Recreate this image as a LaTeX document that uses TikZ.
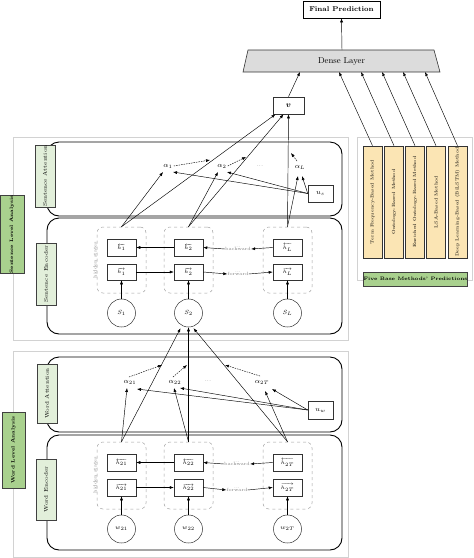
\documentclass[tikz,border=0pt]{standalone}
\usepackage{amsmath,amssymb}
\usetikzlibrary{arrows.meta,calc}
\definecolor{lgreen}{HTML}{E2EFDA}
\definecolor{dgreen}{HTML}{A9D18E}
\definecolor{lyellow}{HTML}{FBE5B4}
\definecolor{dgray}{HTML}{DCDCDC}
\begin{document}
\begin{tikzpicture}[x=1pt,y=-1pt,
  arr/.style={-{Latex[length=4pt,width=3pt]}, line width=0.45pt},
  darr/.style={arr, dash pattern=on 1.5pt off 1pt},
  outer/.style={draw=gray!35, line width=0.6pt, inner sep=0},
  rboxn/.style={draw=black, line width=0.9pt, rounded corners=12pt, inner sep=0},
  lab/.style={draw=gray!50!black, fill=lgreen, rotate=90, inner sep=0, line width=0.6pt, font=\fontsize{5.4}{6}\selectfont},
  biglab/.style={draw=gray!50!black, fill=dgreen, inner sep=0, line width=0.6pt, font=\bfseries\fontsize{4.9}{5.5}\selectfont},
  hid/.style={draw=gray!75, dashed, rounded corners=6pt, line width=0.5pt, inner sep=0, minimum width=49pt},
  hbox/.style={draw=gray!40!black, minimum width=29pt, inner sep=0, line width=0.5pt, font=\fontsize{5.5}{6}\selectfont},
  circ/.style={circle, draw=gray!40!black, minimum size=28pt, inner sep=0, line width=0.5pt, font=\fontsize{6.5}{7}\selectfont},
  meth/.style={draw=gray!40!black, fill=lyellow, rotate=90, minimum width=112pt, minimum height=19pt, inner sep=0, line width=0.6pt, font=\fontsize{4.5}{5}\selectfont},
  alp/.style={inner sep=1pt, font=\fontsize{7.5}{8}\selectfont},
  tiny/.style={text=gray, inner sep=0, font=\fontsize{4.6}{4.8}\selectfont, align=center},
  ubox/.style={draw=gray!40!black, minimum width=25pt, inner sep=0, line width=0.5pt, font=\fontsize{7}{8}\selectfont}
]
\useasboundingbox (0,0) rectangle (474,558);

% ---------- top part ----------
\node[draw=black, line width=0.6pt, minimum width=77pt, minimum height=17pt, inner sep=0,
      font=\bfseries\fontsize{7}{8}\selectfont] (final) at (341.5,9.5) {Final Prediction};
\draw[fill=dgray, draw=gray!40!black, line width=0.6pt] (248,50) -- (434,50) -- (440,72) -- (243,72) -- cycle;
\node[inner sep=0, font=\fontsize{8.5}{9}\selectfont] (dense) at (341.5,61) {Dense Layer};
\coordinate (dtop) at (342,50);
\coordinate (d0) at (300,72);
\coordinate (d1) at (339,72);
\coordinate (d2) at (361,72);
\coordinate (d3) at (382,72);
\coordinate (d4) at (403,72);
\coordinate (d5) at (425,72);
\draw[arr] (dtop) -- (final.south);

\node[draw=gray!40!black, line width=0.6pt, minimum width=31pt, minimum height=17pt, inner sep=0,
      font=\fontsize{8}{9}\selectfont] (v) at (288.5,105.5) {$\boldsymbol{v}$};
\draw[arr] (v.north) -- (d0);

% ---------- base methods ----------
\node[outer, minimum width=115pt, minimum height=143pt] (baseout) at (414.5,208.5) {};
\node[meth] (m1) at (372.5,202) {Term Frequency-Based Method};
\node[meth] (m2) at (394,202) {Ontology-Based Method};
\node[meth] (m3) at (415,202) {Enriched Ontology-Based Method};
\node[meth] (m4) at (436,202) {LSA-Based Method};
\node[meth] (m5) at (457.5,202) {Deep Learning-Based (BiLSTM) Method};
\node[biglab, minimum width=101pt, minimum height=14pt] (five) at (415.5,279) {Five Base Methods' Predictions};
\draw[arr] (m1.east) -- (d1);
\draw[arr] (m2.east) -- (d2);
\draw[arr] (m3.east) -- (d3);
\draw[arr] (m4.east) -- (d4);
\draw[arr] (m5.east) -- (d5);

% ---------- sentence level ----------
\node[outer, minimum width=335pt, minimum height=203pt] (slout) at (180.5,238.5) {};
\node[rboxn, minimum width=295pt, minimum height=74pt] (satt) at (194.5,179) {};
\node[rboxn, minimum width=295pt, minimum height=116pt] (senc) at (194.5,276) {};
\node[biglab, rotate=90, minimum width=77pt, minimum height=24pt] (slab) at (12,234.5) {Sentence Level Analysis};
\node[lab, minimum width=62pt, minimum height=20pt] (sattlab) at (45,176) {Sentence Attention};
\node[lab, minimum width=62pt, minimum height=20pt] (senclab) at (46,274) {Sentence Encoder};

\foreach \i/\x/\s in {1/121.5/1, 2/188.5/2, 3/287.5/L}{
  \node[hid, minimum height=66pt] (sh\i) at (\x,260) {};
  \node[hbox, minimum height=17pt] (sb\i) at (\x,247.5) {$\overleftarrow{h_{\s}}$};
  \node[hbox, minimum height=16pt] (sf\i) at (\x,272) {$\overrightarrow{h_{\s}}$};
  \node[circ] (sc\i) at (\x,313) {$S_{\s}$};
  \draw[arr] (sc\i.north) -- (sf\i.south);
}
\node[tiny, rotate=90] (shs) at (95,260) {hidden states};
\node[tiny] (sbk) at (238,249) {...\\[-1.5pt]backward};
\node[tiny] (sfw) at (238,274) {...\\[-1.5pt]forward};
\draw[arr] (sb3.west) -- (sbk.east);
\draw[arr] (sbk.west) -- (sb2.east);
\draw[arr] (sb2.west) -- (sb1.east);
\draw[arr] (sf1.east) -- (sf2.west);
\draw[arr] (sf2.east) -- (sfw.west);
\draw[arr] (sfw.east) -- (sf3.west);

\node[alp] (a1) at (168,166) {$\alpha_1$};
\node[alp] (a2) at (222,166) {$\alpha_2$};
\node[tiny, font=\fontsize{6}{6}\selectfont] (adots) at (260,166) {...};
\node[alp] (aL) at (300,167) {$\alpha_L$};
\node[ubox, minimum height=17pt] (us) at (320.5,193.5) {$u_s$};
\coordinate (da1) at (210,160);
\coordinate (da2) at (246,157);
\coordinate (daL) at (291,153);
\draw[darr] (a1.east) -- (da1);
\draw[darr] (a2.east) -- (da2);
\draw[darr] ($(aL)+(-3,-6)$) -- (daL);

\draw[arr] (sh1.north) -- ($(a1)+(-5,6)$);
\draw[arr] (sh2.north) -- ($(a2)+(-4,6)$);
\draw[arr] (sh3.north) -- ($(aL)+(-2,9)$);
\draw[arr] (us.west) -- ($(a1)+(5,6)$);
\draw[arr] (us.west) -- ($(a2)+(5,6)$);
\draw[arr] (us.west) -- ($(aL)+(2,9)$);
\draw[arr] (sh1.north) -- ($(v.south)+(-13,0)$);
\draw[arr] (sh2.north) -- ($(v.south)+(-5,0)$);
\draw[arr] (sh3.north) -- (v.south);

% ---------- word level ----------
\node[outer, minimum width=335pt, minimum height=206pt] (wlout) at (180.5,454) {};
\node[rboxn, minimum width=295pt, minimum height=75pt] (watt) at (194.5,394.5) {};
\node[rboxn, minimum width=295pt, minimum height=115pt] (wenc) at (194.5,492.5) {};
\node[biglab, rotate=90, minimum width=76pt, minimum height=23pt] (wlab) at (13.5,450) {Word Level Analysis};
\node[lab, minimum width=59pt, minimum height=20pt] (wattlab) at (47,393.5) {Word Attention};
\node[lab, minimum width=61pt, minimum height=20pt] (wenclab) at (46,489.5) {Word Encoder};

\foreach \i/\x/\s in {1/121.5/21, 2/188.5/22, 3/287.5/2T}{
  \node[hid, minimum height=67pt] (wh\i) at (\x,475.5) {};
  \node[hbox, minimum height=17pt] (wb\i) at (\x,462.5) {$\overleftarrow{h_{\s}}$};
  \node[hbox, minimum height=17pt] (wf\i) at (\x,487.5) {$\overrightarrow{h_{\s}}$};
  \node[circ] (wc\i) at (\x,529) {$w_{\s}$};
  \draw[arr] (wc\i.north) -- (wf\i.south);
}
\node[tiny, rotate=90] (whs) at (95,475) {hidden states};
\node[tiny] (wbk) at (237,464) {...\\[-1.5pt]backward};
\node[tiny] (wfw) at (237,490) {...\\[-1.5pt]forward};
\draw[arr] (wb3.west) -- (wbk.east);
\draw[arr] (wbk.west) -- (wb2.east);
\draw[arr] (wb2.west) -- (wb1.east);
\draw[arr] (wf1.east) -- (wf2.west);
\draw[arr] (wf2.east) -- (wfw.west);
\draw[arr] (wfw.east) -- (wf3.west);

\node[alp] (b1) at (130,382) {$\alpha_{21}$};
\node[alp] (b2) at (175,382) {$\alpha_{22}$};
\node[tiny, font=\fontsize{6}{6}\selectfont] (bdots) at (208,381) {...};
\node[alp] (bT) at (262,382) {$\alpha_{2T}$};
\node[ubox, minimum height=18pt] (uw) at (320.5,410) {$u_w$};
\coordinate (db1) at (162,365);
\coordinate (db2) at (187,365);
\coordinate (dbT) at (225,365);
\draw[darr] ($(b1)+(-1,-5)$) -- (db1);
\draw[darr] ($(b2)+(-2,-5)$) -- (db2);
\draw[darr] ($(bT)+(-2,-6)$) -- (dbT);

\draw[arr] (wh1.north) -- ($(b1)+(-3,6)$);
\draw[arr] (wh2.north) -- ($(b2)+(-1,6)$);
\draw[arr] (wh3.north) -- ($(bT)+(3,9)$);
\draw[arr] (uw.west) -- ($(b1)+(7,7)$);
\draw[arr] (uw.west) -- ($(b2)+(5,6)$);
\draw[arr] (uw.west) -- ($(bT)+(10,7)$);
\draw[arr] (wh1.north) -- ($(sc2.south)+(-8,1)$);
\draw[arr] (wh2.north) -- (sc2.south);
\draw[arr] (wh3.north) -- ($(sc2.south)+(5,1)$);
\end{tikzpicture}
\end{document}
